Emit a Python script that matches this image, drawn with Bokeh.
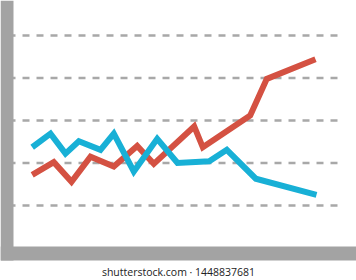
from bokeh.plotting import figure
from bokeh.models import Range1d
from bokeh.embed import file_html
from bokeh.resources import INLINE
from bokeh.core.properties import value

# --- data (x in arbitrary time units, y in value units) ---
red_x = [31.7, 53.3, 71.0, 90.0, 113.3, 136.7, 153.3, 193.7, 202.3, 249.7, 266.3, 315.0]
red_y = [1.72, 2.02, 1.56, 2.15, 1.92, 2.40, 1.98, 2.86, 2.37, 3.12, 3.98, 4.44]
blue_x = [31.7, 50.0, 65.0, 78.3, 100.0, 113.3, 133.3, 156.7, 177.0, 208.7, 226.3, 255.3, 316.0]
blue_y = [2.37, 2.69, 2.22, 2.51, 2.31, 2.69, 1.80, 2.57, 2.00, 2.04, 2.31, 1.63, 1.25]
grid_levels = [1, 2, 3, 4, 5]
watermark = "shutterstock.com · 1448837681"

W, H = 356, 280
# y value -> pixel: ypx = 247.5 - 42.5*v
y_top = 247.5 / 42.5
y_bot = (247.5 - 280) / 42.5

p = figure(width=W, height=H, output_backend="svg", toolbar_location=None,
           x_range=Range1d(0, W), y_range=Range1d(y_bot, y_top),
           min_border=0, min_border_left=0, min_border_right=0,
           min_border_top=0, min_border_bottom=0)
p.axis.visible = False
p.grid.visible = False
p.outline_line_color = None
p.background_fill_color = "white"
p.border_fill_color = "white"

# dashed horizontal guide lines
n = len(grid_levels)
p.segment(x0=[8] * n, x1=[342] * n, y0=grid_levels, y1=grid_levels,
          line_color="#a8a8a8", line_width=2.5, line_dash="7 7")

# series
p.line(red_x, red_y, line_color="#d45142", line_width=6,
       line_join="miter", line_cap="butt")
p.line(blue_x, blue_y, line_color="#18b0d6", line_width=6,
       line_join="miter", line_cap="butt")

# gray frame bands (left and bottom)
px2v = lambda ypx: (247.5 - ypx) / 42.5
p.quad(left=[0, 0], right=[13, W], top=[px2v(0), px2v(246)],
       bottom=[px2v(260), px2v(260)], fill_color="#a3a3a3", line_color=None)

# watermark
p.text(x=[178], y=[px2v(271)], text=[watermark], text_align="center",
       text_baseline="middle", text_font=value("Open Sans"),
       text_font_size="10.5px", text_color="#222222")

open("out.html", "w").write(file_html(p, INLINE))
